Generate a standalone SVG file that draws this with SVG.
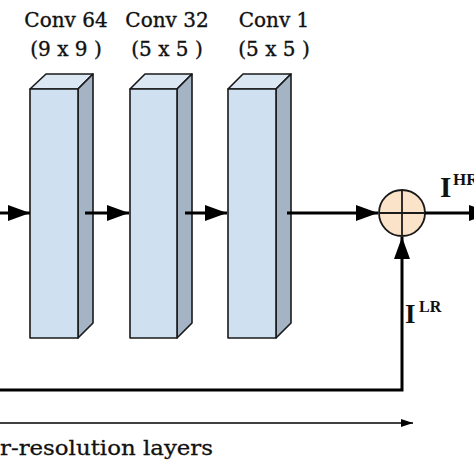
<svg xmlns="http://www.w3.org/2000/svg" width="474" height="474" viewBox="0 0 474 474">
<defs>
<style>
.lbl{font-family:"DejaVu Serif",serif;font-size:20px;fill:#111;stroke:#111;stroke-width:0.35;text-anchor:middle}
.front{fill:#cfe0f1;stroke:#1a1a1a;stroke-width:1.6;stroke-linejoin:round}
.top{fill:#dbe7f3;stroke:#1a1a1a;stroke-width:1.6;stroke-linejoin:round}
.side{fill:#a4b4c4;stroke:#1a1a1a;stroke-width:1.6;stroke-linejoin:round}
.conn{stroke:#000;stroke-width:3;fill:none}
.math{font-family:"Liberation Serif",serif;fill:#111}
</style>
<marker id="ah" markerWidth="22" markerHeight="16" refX="22" refY="8" orient="auto" markerUnits="userSpaceOnUse">
<path d="M0,0 L22,8 L0,16 Z" fill="#000"/>
</marker>
<marker id="ahs" markerWidth="12" markerHeight="8" refX="12" refY="4" orient="auto" markerUnits="userSpaceOnUse">
<path d="M0,0 L12,4 L0,8 Z" fill="#000"/>
</marker>
</defs>
<rect width="474" height="474" fill="#fff"/>

<g id="conv64">
<text class="lbl" x="66" y="27">Conv 64</text>
<text class="lbl" x="66" y="56">(9 x 9 )</text>
<polygon class="top" points="30,89 46,74 93,74 78,89"/>
<polygon class="side" points="78,89 93,74 93,323 78,338"/>
<rect class="front" x="30" y="89" width="48" height="249"/>
</g>
<g id="conv32">
<text class="lbl" x="167" y="27">Conv 32</text>
<text class="lbl" x="167" y="56">(5 x 5 )</text>
<polygon class="top" points="130,89 145,74 192,74 177,89"/>
<polygon class="side" points="177,89 192,74 192,323 177,338"/>
<rect class="front" x="130" y="89" width="47" height="249"/>
</g>
<g id="conv1">
<text class="lbl" x="274" y="27">Conv 1</text>
<text class="lbl" x="274" y="56">(5 x 5 )</text>
<polygon class="top" points="228,89 243,74 291,74 276,89"/>
<polygon class="side" points="276,89 291,74 291,323 276,338"/>
<rect class="front" x="228" y="89" width="48" height="249"/>
</g>
<g id="sum">
<circle cx="402" cy="213" r="23" fill="#fbe3c9" stroke="#1a1a1a" stroke-width="1.8"/>
<line x1="379" y1="213" x2="425" y2="213" stroke="#1a1a1a" stroke-width="1.8"/>
<line x1="402" y1="190" x2="402" y2="236" stroke="#1a1a1a" stroke-width="1.8"/>
</g>

<g id="connectors">
<line class="conn" x1="0" y1="213" x2="30" y2="213" marker-end="url(#ah)"/>
<line class="conn" x1="85" y1="213" x2="129" y2="213" marker-end="url(#ah)"/>
<line class="conn" x1="185" y1="213" x2="227" y2="213" marker-end="url(#ah)"/>
<line class="conn" x1="287" y1="213" x2="378" y2="213" marker-end="url(#ah)"/>
<line class="conn" x1="425" y1="213" x2="491" y2="213" marker-end="url(#ah)"/>
<polyline class="conn" points="0,390 402,390 402,237" marker-end="url(#ah)"/>
<line x1="0" y1="423" x2="413" y2="423" stroke="#000" stroke-width="1.5" marker-end="url(#ahs)"/>
</g>

<text class="math" x="440" y="197" font-size="29" font-weight="bold">I</text>
<text class="math" x="453" y="185" font-size="17" font-weight="bold">HR</text>
<text class="math" x="405" y="323" font-size="27" font-weight="bold">I</text>
<text class="math" x="419" y="312" font-size="16" font-weight="bold">LR</text>

<text x="0" y="455" font-family="DejaVu Serif,serif" font-size="21" fill="#111" stroke="#111" stroke-width="0.3" textLength="213" lengthAdjust="spacingAndGlyphs">r-resolution layers</text>
</svg>
